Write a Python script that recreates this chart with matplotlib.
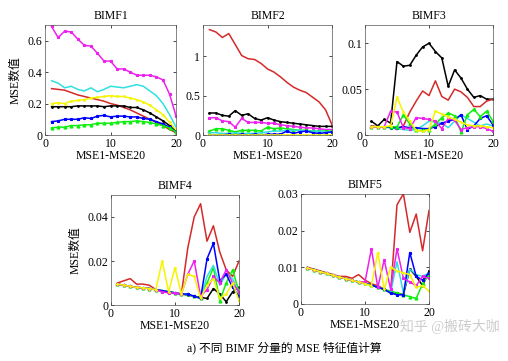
import numpy as np
import matplotlib.pyplot as plt

plt.rcParams['font.family'] = ['Liberation Serif', 'Noto Sans CJK SC']
plt.rcParams['font.size'] = 8

x = np.arange(1, 21)

# BIMF1
b1_magenta = [0.69, 0.62, 0.66, 0.655, 0.61, 0.57, 0.565, 0.52, 0.47, 0.47, 0.42, 0.42, 0.40, 0.38, 0.38, 0.38, 0.37, 0.35, 0.26, 0.12]
b1_cyan = [0.345, 0.33, 0.30, 0.31, 0.29, 0.28, 0.30, 0.275, 0.29, 0.31, 0.305, 0.30, 0.31, 0.32, 0.31, 0.28, 0.25, 0.20, 0.13, 0.05]
b1_red = [0.295, 0.29, 0.285, 0.27, 0.255, 0.245, 0.235, 0.225, 0.215, 0.20, 0.19, 0.175, 0.16, 0.14, 0.12, 0.10, 0.08, 0.06, 0.035, 0.015]
b1_yellow = [0.20, 0.205, 0.20, 0.215, 0.22, 0.225, 0.235, 0.24, 0.245, 0.25, 0.245, 0.245, 0.235, 0.225, 0.21, 0.19, 0.16, 0.13, 0.08, 0.03]
b1_black = [0.18, 0.18, 0.18, 0.18, 0.185, 0.185, 0.185, 0.185, 0.18, 0.185, 0.185, 0.185, 0.175, 0.175, 0.16, 0.14, 0.115, 0.09, 0.06, 0.02]
b1_blue = [0.085, 0.09, 0.10, 0.10, 0.10, 0.11, 0.105, 0.12, 0.125, 0.115, 0.12, 0.12, 0.115, 0.115, 0.105, 0.10, 0.085, 0.07, 0.05, 0.02]
b1_green = [0.045, 0.05, 0.05, 0.06, 0.06, 0.065, 0.065, 0.075, 0.075, 0.075, 0.08, 0.085, 0.085, 0.09, 0.085, 0.08, 0.07, 0.06, 0.045, 0.02]

# BIMF2
b2_red = [1.34, 1.31, 1.24, 1.29, 1.15, 1.01, 0.97, 0.96, 0.91, 0.84, 0.80, 0.74, 0.67, 0.61, 0.57, 0.54, 0.48, 0.42, 0.32, 0.13]
b2_black = [0.28, 0.28, 0.25, 0.24, 0.31, 0.25, 0.27, 0.21, 0.19, 0.22, 0.19, 0.17, 0.16, 0.15, 0.14, 0.13, 0.12, 0.11, 0.11, 0.11]
b2_magenta = [0.22, 0.22, 0.18, 0.17, 0.10, 0.21, 0.16, 0.16, 0.16, 0.15, 0.15, 0.13, 0.12, 0.11, 0.10, 0.09, 0.09, 0.08, 0.07, 0.07]
b2_green = [0.05, 0.08, 0.08, 0.06, 0.04, 0.06, 0.06, 0.06, 0.05, 0.10, 0.08, 0.09, 0.08, 0.07, 0.06, 0.06, 0.05, 0.05, 0.05, 0.05]
b2_cyan = [0.03, 0.03, 0.02, 0.02, 0.03, 0.02, 0.02, 0.02, 0.03, 0.04, 0.05, 0.05, 0.06, 0.06, 0.06, 0.05, 0.05, 0.05, 0.04, 0.04]
b2_blue = [0.0, 0.0, 0.0, 0.01, 0.0, 0.01, 0.0, 0.01, 0.0, 0.01, 0.01, 0.01, 0.05, 0.02, 0.04, 0.05, 0.03, 0.02, 0.03, 0.04]
b2_yellow = [0.005, 0.005, 0.005, 0.005, 0.005, 0.005, 0.005, 0.005, 0.005, 0.005, 0.005, 0.005, 0.005, 0.005, 0.005, 0.005, 0.005, 0.005, 0.005, 0.005]

# BIMF3
b3_black = [0.015, 0.010, 0.017, 0.013, 0.080, 0.075, 0.076, 0.087, 0.096, 0.100, 0.091, 0.084, 0.053, 0.071, 0.062, 0.050, 0.041, 0.043, 0.039, 0.039]
b3_red = [0.010, 0.009, 0.009, 0.009, 0.006, 0.010, 0.025, 0.037, 0.048, 0.043, 0.059, 0.042, 0.038, 0.050, 0.047, 0.041, 0.031, 0.031, 0.037, 0.039]
b3_yellow = [0.009, 0.009, 0.009, 0.010, 0.041, 0.025, 0.015, 0.005, 0.004, 0.006, 0.026, 0.023, 0.020, 0.017, 0.014, 0.011, 0.010, 0.010, 0.009, 0.008]
b3_magenta = [0.009, 0.009, 0.009, 0.026, 0.025, 0.008, 0.007, 0.019, 0.018, 0.017, 0.015, 0.007, 0.018, 0.016, 0.006, 0.008, 0.009, 0.009, 0.007, 0.004]
b3_green = [0.009, 0.009, 0.009, 0.009, 0.009, 0.022, 0.012, 0.005, 0.005, 0.006, 0.012, 0.019, 0.024, 0.021, 0.003, 0.022, 0.028, 0.020, 0.026, 0.015]
b3_cyan = [0.009, 0.009, 0.009, 0.008, 0.007, 0.006, 0.005, 0.006, 0.010, 0.015, 0.014, 0.013, 0.008, 0.015, 0.022, 0.018, 0.014, 0.010, 0.012, 0.010]
b3_blue = [0.009, 0.009, 0.009, 0.008, 0.008, 0.009, 0.008, 0.008, 0.007, 0.007, 0.009, 0.013, 0.015, 0.017, 0.022, 0.006, 0.010, 0.018, 0.021, 0.011]

# BIMF4
b4_red = [0.010, 0.011, 0.012, 0.0095, 0.0095, 0.009, 0.007, 0.006, 0.006, 0.0055, 0.005, 0.026, 0.040, 0.046, 0.029, 0.036, 0.024, 0.016, 0.013, 0.020]
b4_yellow = [0.0095, 0.009, 0.0085, 0.008, 0.0078, 0.0075, 0.007, 0.020, 0.006, 0.017, 0.005, 0.014, 0.013, 0.003, 0.009, 0.012, 0.003, 0.005, 0.010, 0.002]
b4_magenta = [0.0095, 0.009, 0.0085, 0.008, 0.0078, 0.0075, 0.007, 0.006, 0.0055, 0.0055, 0.005, 0.014, 0.020, 0.004, 0.007, 0.013, 0.010, 0.016, 0.010, 0.006]
b4_blue = [0.0095, 0.009, 0.0085, 0.008, 0.0078, 0.0075, 0.007, 0.0065, 0.006, 0.0055, 0.005, 0.005, 0.004, 0.003, 0.021, 0.028, 0.011, 0.014, 0.008, 0.004]
b4_cyan = [0.0095, 0.009, 0.0085, 0.008, 0.0078, 0.0075, 0.007, 0.0065, 0.006, 0.0055, 0.005, 0.0048, 0.004, 0.003, 0.013, 0.018, 0.009, 0.014, 0.012, 0.005]
b4_green = [0.0095, 0.009, 0.0085, 0.008, 0.0078, 0.0075, 0.007, 0.0065, 0.006, 0.0055, 0.005, 0.0048, 0.004, 0.003, 0.010, 0.017, 0.002, 0.010, 0.016, 0.006]
b4_black = [0.0095, 0.009, 0.0085, 0.008, 0.0078, 0.0075, 0.007, 0.0065, 0.006, 0.0055, 0.005, 0.0045, 0.004, 0.0035, 0.003, 0.0075, 0.005, 0.0015, 0.006, 0.008]

# BIMF5
b5_red = [0.010, 0.0095, 0.009, 0.0085, 0.008, 0.0075, 0.0075, 0.007, 0.008, 0.0065, 0.0055, 0.005, 0.004, 0.003, 0.027, 0.030, 0.0195, 0.0245, 0.0145, 0.0255]
b5_magenta = [0.0098, 0.0093, 0.0088, 0.0083, 0.0078, 0.0073, 0.0069, 0.0064, 0.006, 0.006, 0.015, 0.0045, 0.012, 0.004, 0.015, 0.007, 0.006, 0.005, 0.0075, 0.007]
b5_yellow = [0.0098, 0.0093, 0.0088, 0.0083, 0.0078, 0.0073, 0.0069, 0.0064, 0.006, 0.0055, 0.005, 0.014, 0.004, 0.010, 0.009, 0.0085, 0.008, 0.0045, 0.005, 0.0035]
b5_cyan = [0.0098, 0.0093, 0.0088, 0.0083, 0.0078, 0.0073, 0.0069, 0.0064, 0.006, 0.0056, 0.0052, 0.0045, 0.004, 0.003, 0.0115, 0.003, 0.0095, 0.008, 0.0075, 0.0085]
b5_blue = [0.0098, 0.0093, 0.0088, 0.0083, 0.0078, 0.0073, 0.0069, 0.0064, 0.006, 0.0056, 0.0052, 0.0045, 0.004, 0.003, 0.0025, 0.0025, 0.014, 0.0075, 0.0065, 0.0085]
b5_green = [0.0098, 0.0093, 0.0088, 0.0083, 0.0078, 0.0073, 0.0069, 0.0064, 0.006, 0.0056, 0.0052, 0.0045, 0.004, 0.0035, 0.003, 0.0025, 0.002, 0.0015, 0.0055, 0.008]
b5_black = [0.0098, 0.0093, 0.0088, 0.0083, 0.0078, 0.0073, 0.0069, 0.0064, 0.006, 0.0056, 0.0052, 0.0045, 0.004, 0.003, 0.003, 0.0025, 0.0095, 0.0075, 0.005, 0.009]

colors = {'red': '#d42a2a', 'magenta': '#ee22ee', 'cyan': '#30e0e0', 'yellow': '#f5f500',
          'black': 'black', 'blue': '#0000ff', 'green': '#10ee10'}
markers = {'red': '', 'magenta': '*', 'cyan': '', 'yellow': '.', 'black': '.', 'blue': '*', 'green': '^'}

panels = [
    ('BIMF1', [0.0886, 0.626, 0.258, 0.305], 0.7, [0, 0.2, 0.4, 0.6], ['0', '0.2', '0.4', '0.6'], True,
     [('magenta', b1_magenta), ('cyan', b1_cyan), ('red', b1_red), ('yellow', b1_yellow),
      ('black', b1_black), ('blue', b1_blue), ('green', b1_green)]),
    ('BIMF2', [0.3996, 0.626, 0.254, 0.305], 1.4, [0, 0.5, 1], ['0', '0.5', '1'], False,
     [('red', b2_red), ('black', b2_black), ('magenta', b2_magenta), ('green', b2_green),
      ('cyan', b2_cyan), ('blue', b2_blue), ('yellow', b2_yellow)]),
    ('BIMF3', [0.7185, 0.626, 0.252, 0.305], 0.12, [0, 0.05, 0.1], ['0', '0.05', '0.1'], False,
     [('black', b3_black), ('red', b3_red), ('cyan', b3_cyan), ('blue', b3_blue),
      ('green', b3_green), ('magenta', b3_magenta), ('yellow', b3_yellow)]),
    ('BIMF4', [0.2185, 0.155, 0.252, 0.305], 0.05, [0, 0.02, 0.04], ['0', '0.02', '0.04'], True,
     [('red', b4_red), ('black', b4_black), ('green', b4_green), ('cyan', b4_cyan),
      ('blue', b4_blue), ('magenta', b4_magenta), ('yellow', b4_yellow)]),
    ('BIMF5', [0.5925, 0.158, 0.252, 0.305], 0.03, [0, 0.01, 0.02, 0.03], ['0', '0.01', '0.02', '0.03'], False,
     [('red', b5_red), ('black', b5_black), ('green', b5_green), ('cyan', b5_cyan),
      ('blue', b5_blue), ('magenta', b5_magenta), ('yellow', b5_yellow)]),
]

fig = plt.figure(figsize=(5.08, 3.61), dpi=100)

for title, pos, ymax, yt, ytl, ylab, series in panels:
    ax = fig.add_axes(pos)
    for c, vals in series:
        ax.plot(x, vals, color=colors[c], marker=markers[c], markersize=2, linewidth=1.1)
    ax.set_xlim(0, 20)
    ax.set_ylim(0, ymax)
    ax.set_xticks([0, 10, 20])
    ax.set_yticks(yt)
    ax.set_yticklabels(ytl)
    ax.tick_params(direction='in', top=True, right=True, length=2, width=0.5, labelsize=8.5, pad=2)
    for s in ax.spines.values():
        s.set_linewidth(0.5)
        s.set_color('#555555')
    ax.set_title(title, fontsize=8.5, pad=4)
    ax.set_xlabel('MSE1-MSE20', fontsize=8.5, labelpad=0)
    if ylab:
        ax.set_ylabel('MSE数值', fontsize=8.5, labelpad=4)

fig.text(0.56, 0.035, 'a) 不同 BIMF 分量的 MSE 特征值计算', ha='center', va='center', fontsize=8.5)
# watermark from the source image, nudged just below the "20" tick label
fig.text(0.885, 0.095, '知乎 @搬砖大咖', ha='center', va='center', fontsize=10, color='#cccccc')

fig.savefig('out.png', dpi=100)
